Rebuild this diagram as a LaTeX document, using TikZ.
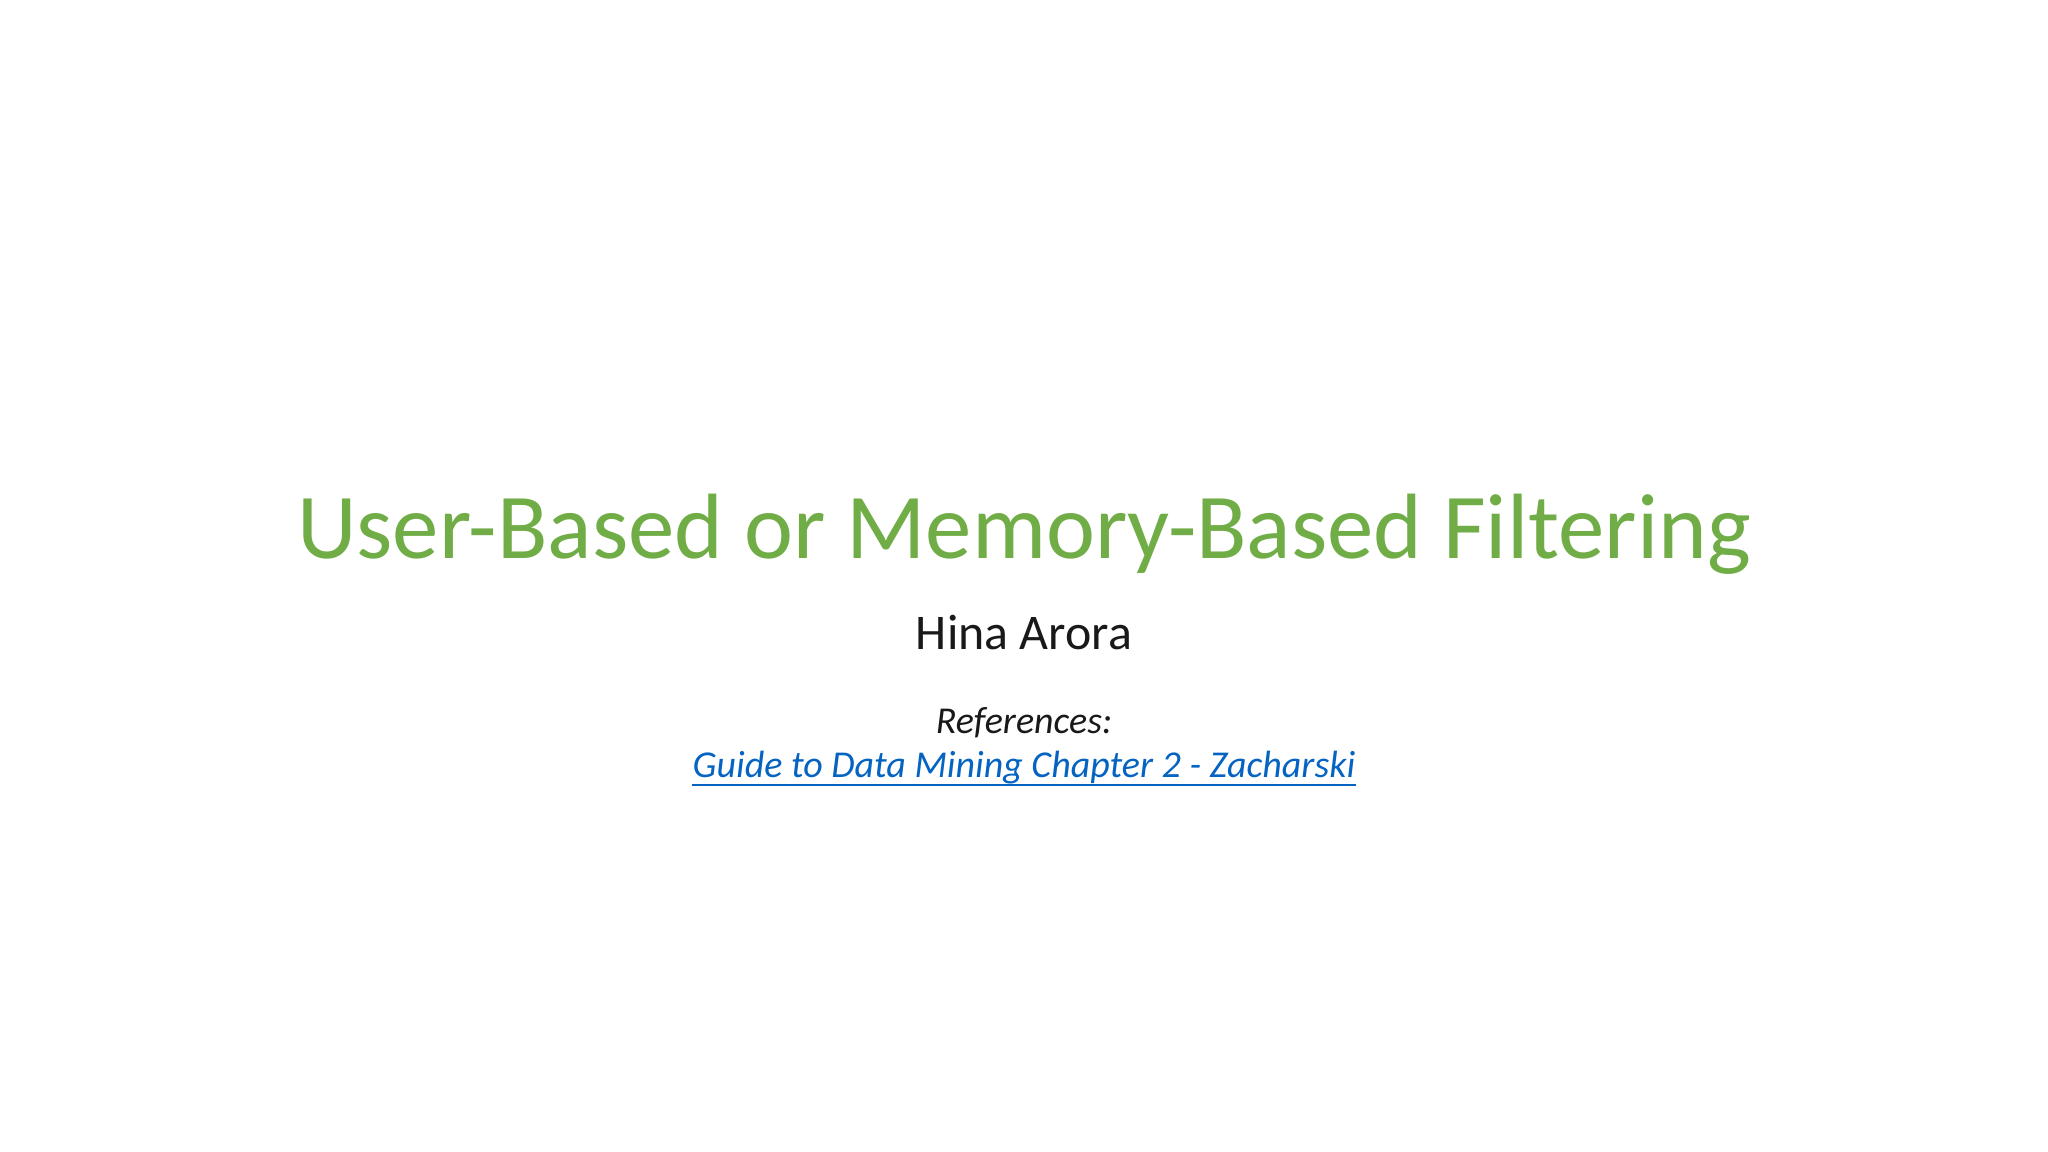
\documentclass[tikz,border=0pt]{standalone}
\usepackage{fontspec}
\setmainfont{Carlito}
\definecolor{titlegreen}{HTML}{70AD47}
\definecolor{linkblue}{HTML}{0563C1}
\begin{document}
\begin{tikzpicture}
\useasboundingbox (0,0) rectangle (20.48,11.52);
\tikzset{txt/.style={anchor=base, inner sep=0pt}}
\node[txt, text=titlegreen, font=\fontsize{26.4}{31}\selectfont] (title) at (10.24,5.93) {User-Based or Memory-Based Filtering};
\node[txt, text=black!90, font=\fontsize{14.2}{17}\selectfont] (author) at (10.24,5.02) {Hina Arora};
\node[txt, text=black!90, font=\fontsize{10.8}{13}\selectfont\itshape] (refs) at (10.24,4.18) {References:};
\node[txt, text=linkblue, font=\fontsize{10.8}{13}\selectfont\itshape] (link) at (10.24,3.74) {Guide to Data Mining Chapter 2 - Zacharski};
\draw[linkblue, line width=0.5pt] ([yshift=-2pt]link.base west) -- ([yshift=-2pt]link.base east);
\end{tikzpicture}
\end{document}
